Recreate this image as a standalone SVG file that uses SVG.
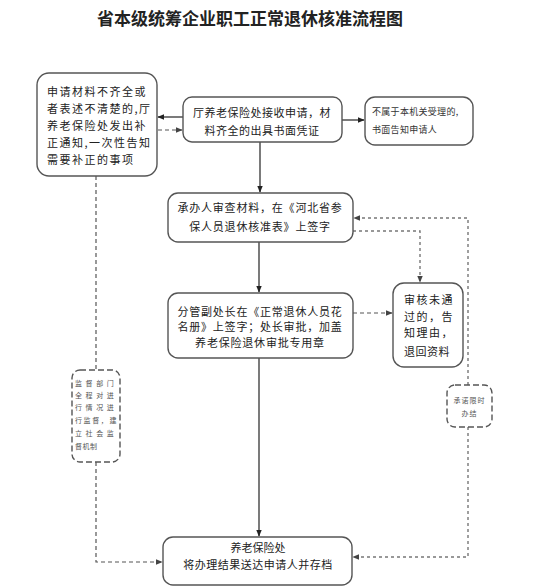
<svg xmlns="http://www.w3.org/2000/svg" width="534" height="588" viewBox="0 0 534 588">
<defs>
<style>
.box{fill:#fff;stroke:#555;stroke-width:1.4}
.dbox{fill:#fff;stroke:#555;stroke-width:1.4;stroke-dasharray:6,3}
.t{font-family:"Noto Sans CJK SC","Noto Sans",sans-serif;fill:#222;font-size:11px}
.s{font-family:"Noto Sans CJK SC","Noto Sans",sans-serif;fill:#333;font-size:9px}
.xs{font-family:"Noto Sans CJK SC","Noto Sans",sans-serif;fill:#555;font-size:7px}
.solid{fill:none;stroke:#222;stroke-width:1.2}
.dash{fill:none;stroke:#555;stroke-width:1.2;stroke-dasharray:4,3}
.dashd{fill:none;stroke:#777;stroke-width:1.4;stroke-dasharray:3,3}
</style>
<marker id="a" viewBox="0 0 10 10" refX="9" refY="5" markerWidth="7" markerHeight="7" orient="auto" markerUnits="userSpaceOnUse"><path d="M0,1 L10,5 L0,9 Z" fill="#222"/></marker>
<marker id="ad" viewBox="0 0 10 10" refX="9" refY="5" markerWidth="7" markerHeight="7" orient="auto" markerUnits="userSpaceOnUse"><path d="M0,1 L10,5 L0,9 Z" fill="#444"/></marker>
</defs>
<rect width="534" height="588" fill="#fff"/>
<text x="250" y="25" text-anchor="middle" style="font-family:'Noto Sans CJK SC',sans-serif;font-weight:bold;font-size:17px;fill:#222">省本级统筹企业职工正常退休核准流程图</text>

<g id="connectors">
<path class="solid" d="M183,117 H158" marker-end="url(#a)"/>
<path class="dash" d="M158,130 H182" marker-end="url(#ad)"/>
<path class="solid" d="M342,120 H364" marker-end="url(#a)"/>
<path class="solid" d="M260,142 V192" marker-end="url(#a)"/>
<path class="solid" d="M259,242 V292" marker-end="url(#a)"/>
<path class="dash" d="M353,313 H392" marker-end="url(#ad)"/>
<path class="dashd" d="M353,231 H420 V282" marker-end="url(#ad)"/>
<path class="dashd" d="M468,385 V218 H354" marker-end="url(#ad)"/>
<path class="dashd" d="M468,427 V557 H353" marker-end="url(#ad)"/>
<path class="solid" d="M259,358 V536" marker-end="url(#a)"/>
<path class="dash" d="M96,176 V370"/>
<path class="dash" d="M96,462 V562 H162" marker-end="url(#ad)"/>
</g>

<g id="n_left">
<rect class="box" x="37" y="73" width="120" height="103" rx="12"/>
<text class="t" x="47" y="96" letter-spacing="1.5">申请材料不齐全或</text>
<text class="t" x="47" y="113" letter-spacing="1.5">者表述不清楚的,厅</text>
<text class="t" x="47" y="130" letter-spacing="1.5">养老保险处发出补</text>
<text class="t" x="47" y="147" letter-spacing="1.5">正通知,一次性告知</text>
<text class="t" x="47" y="164" letter-spacing="1.5">需要补正的事项</text>
</g>

<g id="n_receive">
<rect class="box" x="183" y="97" width="159" height="45" rx="9"/>
<text class="t" x="262" y="117" text-anchor="middle" letter-spacing="0.5">厅养老保险处接收申请，材</text>
<text class="t" x="262" y="135" text-anchor="middle" letter-spacing="0.5">料齐全的出具书面凭证</text>
</g>

<g id="n_reject1">
<rect class="box" x="365" y="97" width="108" height="48" rx="10"/>
<text class="s" x="372" y="115" letter-spacing="0.3">不属于本机关受理的,</text>
<text class="s" x="372" y="133" letter-spacing="0.3">书面告知申请人</text>
</g>

<g id="n_review">
<rect class="box" x="168" y="193" width="185" height="49" rx="10"/>
<text class="t" x="260" y="212" text-anchor="middle" letter-spacing="0.8">承办人审查材料，在《河北省参</text>
<text class="t" x="260" y="231" text-anchor="middle" letter-spacing="0.8">保人员退休核准表》上签字</text>
</g>

<g id="n_approve">
<rect class="box" x="168" y="293" width="185" height="65" rx="10"/>
<text class="t" x="260" y="316" text-anchor="middle" letter-spacing="0.8">分管副处长在《正常退休人员花</text>
<text class="t" x="260" y="331" text-anchor="middle" letter-spacing="0.8">名册》上签字；处长审批，加盖</text>
<text class="t" x="260" y="347" text-anchor="middle" letter-spacing="0.8">养老保险退休审批专用章</text>
</g>

<g id="n_reject2">
<rect class="box" x="393" y="283" width="70" height="84" rx="11"/>
<text class="t" x="404" y="304" letter-spacing="1.5">审核未通</text>
<text class="t" x="404" y="321" letter-spacing="1.5">过的，告</text>
<text class="t" x="404" y="337" letter-spacing="1.5">知理由，</text>
<text class="t" x="404" y="356" letter-spacing="0.5">退回资料</text>
</g>

<g id="n_supervise">
<rect class="dbox" x="72" y="370" width="48" height="92" rx="8"/>
<text class="xs" x="75" y="386" letter-spacing="3.6">监督部门</text>
<text class="xs" x="75" y="398" letter-spacing="3.6">全程对进</text>
<text class="xs" x="75" y="410" letter-spacing="3.6">行情况进</text>
<text class="xs" x="75" y="423" letter-spacing="1.6">行监督，建</text>
<text class="xs" x="75" y="436" letter-spacing="3.6">立社会监</text>
<text class="xs" x="75" y="449" letter-spacing="0.5">督机制</text>
</g>

<g id="n_promise">
<rect class="dbox" x="447" y="385" width="45" height="42" rx="8"/>
<text class="xs" x="469.5" y="403" text-anchor="middle" letter-spacing="1">承诺限时</text>
<text class="xs" x="469.5" y="416" text-anchor="middle" letter-spacing="1">办结</text>
</g>

<g id="n_final">
<rect class="box" x="163" y="537" width="189" height="48" rx="10"/>
<text class="t" x="258" y="552" text-anchor="middle">养老保险处</text>
<text class="t" x="258" y="569" text-anchor="middle" letter-spacing="0.5">将办理结果送达申请人并存档</text>
</g>
</svg>
